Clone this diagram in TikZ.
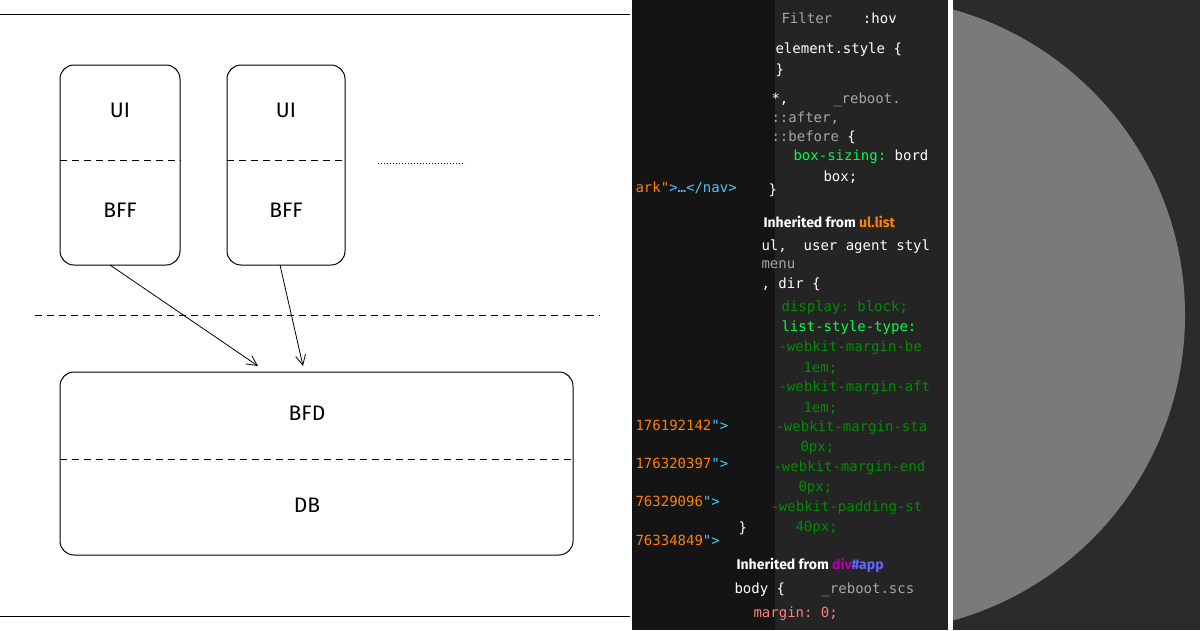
\documentclass[tikz,border=0pt]{standalone}
\usetikzlibrary{arrows.meta}
\usepackage{fontspec}
\setmonofont{DejaVu Sans Mono}
\setsansfont{Fira Sans}
\begin{document}
\begin{tikzpicture}[x=1pt,y=-1pt,
  box/.style={draw,line width=1pt,rounded corners=14pt},
  lbl/.style={font=\sffamily\fontsize{21}{24}\selectfont},
  code/.style={font=\ttfamily\fontsize{14}{16}\selectfont,anchor=west,text=#1},
  sep/.style={dashed,dash pattern=on 7pt off 5pt,line width=0.9pt},
  arr/.style={-{Straight Barb[length=10pt,width=10pt]},line width=0.8pt}]
\useasboundingbox (0,0) rectangle (1200,630);
\fill[white] (0,0) rectangle (1200,630);
% left diagram
\draw[line width=1pt] (0,14) -- (630,14) (0,616) -- (630,616);
\node[box,minimum width=120pt,minimum height=200pt] (b1) at (120,165) {};
\node[box,minimum width=118pt,minimum height=200pt] (b2) at (286,165) {};
\draw[sep] (b1.west |- 0,160) -- (b1.east |- 0,160);
\draw[sep] (b2.west |- 0,160) -- (b2.east |- 0,160);
\node[lbl] (u1) at (120,110) {UI};
\node[lbl] (f1) at (120,210) {BFF};
\node[lbl] (u2) at (286,110) {UI};
\node[lbl] (f2) at (286,210) {BFF};
\draw[dotted,line width=1pt] (378,163) -- (465,163);
\draw[sep] (35,315) -- (600,315);
\node[box,minimum width=513pt,minimum height=183pt] (d) at (316.5,463.5) {};
\draw[sep] (d.west |- 0,459) -- (d.east |- 0,459);
\node[lbl] (bfd) at (307,413) {BFD};
\node[lbl] (db) at (307,505) {DB};
\coordinate (t1) at (258,366);
\coordinate (t2) at (303,366);
\draw[arr] (110,265) -- (t1);
\draw[arr] (280,265) -- (t2);
% middle photo
\fill[black!92] (632,0) rectangle (948,630);
\fill[black!86] (775,0) rectangle (948,630);
\node[code=gray!70] (c1) at (778,18) {Filter \quad\ \textcolor{white}{:hov}};
\node[code=white] (c2) at (772,50) {element.style \{};
\node[code=white] (c3) at (772,70) {\}};
\node[code=white] (c4) at (768,100) {*, \qquad\ \textcolor{gray!70}{\_reboot.}};
\node[code=gray!70] (c5) at (768,118) {::after,};
\node[code=gray!70] (c6) at (768,137) {::before \textcolor{white}{\{}};
\node[code=green!70!cyan] (c7) at (790,157) {box-sizing: \textcolor{white}{bord}};
\node[code=white] (c8) at (820,177) {box;};
\node[code=white] (c9) at (765,190) {\}};
\node[code=white,font=\sffamily\bfseries\fontsize{14}{16}\selectfont] (c10) at (760,222) {Inherited from \textcolor{orange}{ul.list}};
\node[code=white] (c11) at (758,247) {ul, \ user agent styl};
\node[code=gray!70] (c12) at (758,265) {menu};
\node[code=white] (c13) at (758,284) {, dir \{};
\node[code=green!55!black] (c14) at (778,308) {display: block;};
\node[code=green!70!cyan] (c15) at (778,328) {list-style-type:};
\node[code=green!55!black] (c16) at (775,348) {-webkit-margin-be};
\node[code=green!55!black] (c17) at (800,368) {1em;};
\node[code=green!55!black] (c18) at (775,388) {-webkit-margin-aft};
\node[code=green!55!black] (c19) at (800,408) {1em;};
\node[code=green!55!black] (c20) at (772,428) {-webkit-margin-sta};
\node[code=green!55!black] (c21) at (797,448) {0px;};
\node[code=green!55!black] (c22) at (770,468) {-webkit-margin-end};
\node[code=green!55!black] (c23) at (795,488) {0px;};
\node[code=green!55!black] (c24) at (767,508) {-webkit-padding-st};
\node[code=green!55!black] (c25) at (792,528) {40px;};
\node[code=white] (c26) at (735,528) {\}};
\node[code=white,font=\sffamily\bfseries\fontsize{14}{16}\selectfont] (c27) at (733,565) {Inherited from \textcolor{violet!60!magenta}{div}\textcolor{blue!60}{\#app}};
\node[code=white] (c28) at (731,590) {body \{ \qquad \textcolor{gray!70}{\_reboot.scs}};
\node[code=red!50] (c29) at (750,614) {margin: 0;};
\node[code=orange] (o1) at (632,188) {ark"\textcolor{cyan!70}{>…</nav>}};
\node[code=orange] (o2) at (632,425) {176192142\textcolor{cyan!70}{">}};
\node[code=orange] (o3) at (632,463) {176320397\textcolor{cyan!70}{">}};
\node[code=orange] (o4) at (632,501) {76329096\textcolor{cyan!70}{">}};
\node[code=orange] (o5) at (632,540) {76334849\textcolor{cyan!70}{">}};
% right panel
\begin{scope}
\clip (953,0) rectangle (1200,630);
\fill[black!83] (953,0) rectangle (1200,630);
\fill[black!52] (868,315) circle (317);
\end{scope}
\end{tikzpicture}
\end{document}
